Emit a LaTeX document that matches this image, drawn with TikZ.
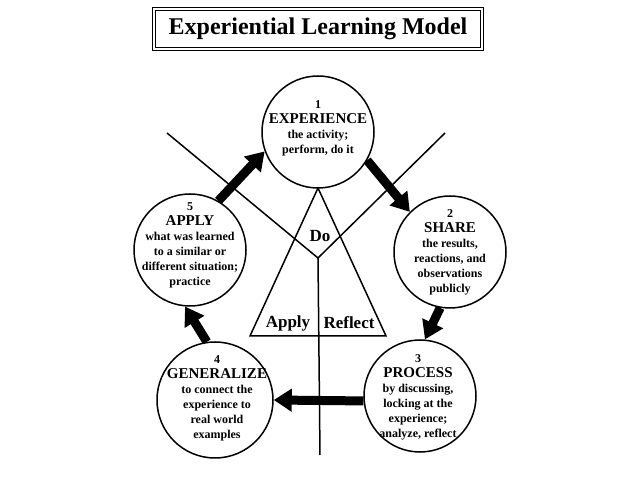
\documentclass[tikz,border=0pt]{standalone}
\usepackage{fontspec}
\setmainfont{Liberation Serif}
\usetikzlibrary{arrows.meta}
\begin{document}
\begin{tikzpicture}[x=1pt,y=-1pt,
  circ/.style={draw,line width=1.5pt,circle,minimum size=112pt,inner sep=0pt},
  txt/.style={align=center,font=\bfseries\fontsize{12}{15}\selectfont},
  big/.style={line width=9pt,-{Triangle[length=18pt,width=22pt]}},
  ln/.style={line width=1.5pt}]
\useasboundingbox (0,0) rectangle (638,478);
\node[draw,line width=1pt,double,double distance=1.5pt,minimum width=328pt,minimum height=40pt,font=\bfseries\fontsize{24}{26}\selectfont] (title) at (318,29) {Experiential Learning Model};
\coordinate (c) at (318,258);
\coordinate (l1) at (167,133);
\coordinate (r1) at (445,133);
\coordinate (b1) at (320,455);
\coordinate (ta) at (318,188);
\coordinate (tl) at (250,336);
\coordinate (tr) at (386,336);
\draw[ln] (ta) -- (tl) -- (tr) -- cycle;
\draw[ln] (l1) -- (c) -- (r1);
\draw[ln] (c) -- (b1);
\node[font=\bfseries\fontsize{17}{19}\selectfont] (do) at (320,236) {Do};
\node[font=\bfseries\fontsize{17}{19}\selectfont] (ap) at (288,323) {Apply};
\node[font=\bfseries\fontsize{17}{19}\selectfont] (re) at (349,323) {Reflect};
\node[circ,fill=white] (n1) at (318,132) {};
\node[circ,fill=white] (n2) at (450,252) {};
\node[circ,fill=white] (n3) at (420,396) {};
\node[circ,fill=white,minimum size=116pt] (n4) at (215,400) {};
\node[circ,fill=white] (n5) at (190,250) {};
\node[txt] (t1) at (318,128) {1\\{\fontsize{15}{17}\selectfont EXPERIENCE}\\the activity;\\perform, do it};
\node[txt] (t2) at (450,252) {2\\{\fontsize{15}{17}\selectfont SHARE}\\the results,\\reactions, and\\observations\\publicly};
\node[txt] (t3) at (418,397) {3\\{\fontsize{15}{17}\selectfont PROCESS}\\by discussing,\\locking at the\\experience;\\analyze, reflect};
\node[txt] (t4) at (217,398) {4\\{\fontsize{15}{17}\selectfont GENERALIZE}\\to connect the\\experience to\\real world\\examples};
\node[txt] (t5) at (190,245) {5\\{\fontsize{15}{17}\selectfont APPLY}\\what was learned\\to a similar or\\different situation;\\practice};
\draw[big] (n5.60) -- (n1.200);
\draw[big] (n1.-30) -- (n2.135);
\draw[big] (n2.-100) -- (n3.85);
\draw[big] (n3.185) -- (n4.0);
\draw[big] (n4.98) -- (n5.-95);
\end{tikzpicture}
\end{document}
